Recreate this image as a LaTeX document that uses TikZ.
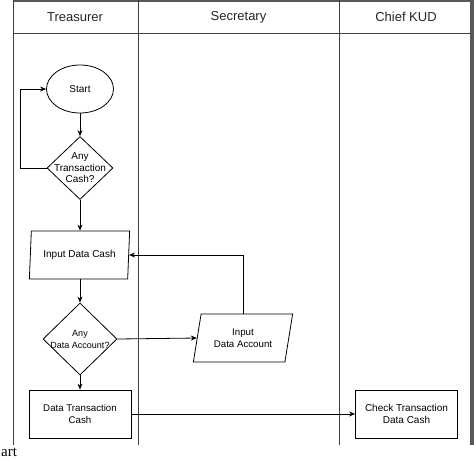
\documentclass[tikz,border=0pt]{standalone}
\usepackage{fontspec}
\setmainfont{Liberation Sans}
\newfontfamily\serifcap{Liberation Serif}
\usetikzlibrary{shapes.geometric,arrows.meta}
\tikzset{
  frameline/.style={line width=0.9pt, draw=black!75},
  shapebox/.style={draw=black, line width=0.8pt, inner sep=0pt, align=center, font=\fontsize{10}{12}\selectfont},
  startbox/.style={shapebox, ellipse, minimum width=67pt, minimum height=48pt},
  decisionbox/.style={shapebox, diamond},
  iobox/.style={shapebox, trapezium, trapezium stretches=true, minimum height=48pt},
  procbox/.style={shapebox, rectangle, minimum width=102pt, minimum height=48pt, font=\fontsize{9.7}{12}\selectfont},
  headtext/.style={font=\fontsize{13}{15}\selectfont, text=black!85},
  arr/.style={draw=black, line width=0.8pt, -{Stealth[length=6pt,width=5pt]}},
  conn/.style={draw=black, line width=0.8pt}
}
\begin{document}
\begin{tikzpicture}[x=1pt,y=-1pt]
\useasboundingbox (0,0) rectangle (474,459);
% pool frame
\draw[line width=2pt, draw=black!65] (13,1) -- (471,1);
\draw[line width=3.2pt, draw=black!65] (472,0) -- (472,445);
\draw[frameline] (13,0) -- (13,445);
\draw[frameline] (138,0) -- (138,445);
\draw[frameline] (339,0) -- (339,445);
\draw[frameline] (13,33) -- (471,33);
% headers
\node[headtext] (h1) at (75,17) {Treasurer};
\node[headtext] (h2) at (238.5,17) {Secretary};
\node[headtext] (h3) at (406,17) {Chief KUD};
% shapes
\node[startbox] (start) at (80,89) {Start};
\node[decisionbox, minimum width=66pt, minimum height=63pt,
  label={[align=center, font=\fontsize{10}{11.5}\selectfont]center:Any\\Transaction\\Cash?}] (d1) at (80,168) {};
\node[iobox, minimum width=101pt, trapezium left angle=81, trapezium right angle=99] (idc) at (79.5,255) {Input Data Cash};
\node[decisionbox, minimum width=74pt, minimum height=72pt,
  label={[align=center, font=\fontsize{9}{12}\selectfont]center:Any\\Data Account?}] (d2) at (80,339) {};
\node[iobox, minimum width=100pt, trapezium left angle=74, trapezium right angle=106, font=\fontsize{9.7}{12}\selectfont] (ida) at (243,338) {Input\\Data Account};
\node[procbox] (dtc) at (80,414) {Data Transaction\\Cash};
\node[procbox, font=\fontsize{10}{12}\selectfont] (ctd) at (406.5,414) {Check Transaction\\Data Cash};
% connectors
\draw[arr] (start.south) -- (d1.north);
\draw[arr] (d1.west) -- ++(-26,0) |- (start.west);
\draw[arr] (d1.south) -- (d1.south |- idc.north);
\draw[arr] (d2.north |- idc.south) -- (d2.north);
\draw[arr] (d2.east) -- (ida.west);
\draw[arr] (ida.north) |- (idc.east);
\draw[arr] (d2.south) -- (dtc.north);
\draw[arr] (dtc.east) -- (ctd.west);
% caption fragment
\node[anchor=base west, inner sep=0pt, font=\serifcap\fontsize{15}{17}\selectfont] (cap) at (1,456) {art};
\end{tikzpicture}
\end{document}
